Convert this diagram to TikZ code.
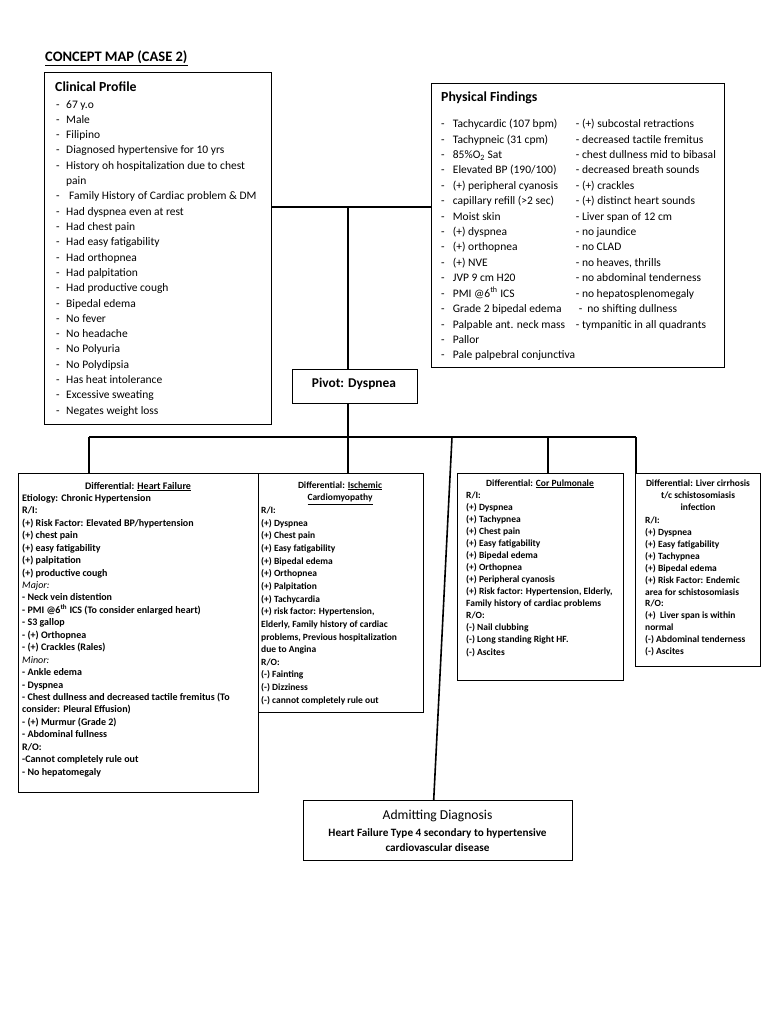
\documentclass[tikz,border=0pt]{standalone}
\usepackage{fontspec}
\setmainfont{Carlito}
\newcommand{\myfs}[2]{\fontsize{#1}{#2}\selectfont}
\newcommand{\cdash}[1]{\makebox[10pt][l]{-}#1}
\newcommand{\pdash}[1]{\makebox[11.7pt][l]{-}#1}
\newcommand{\itl}[1]{{\mdseries\itshape #1}}
\begin{document}
\begin{tikzpicture}[x=1pt,y=-1pt,
  box/.style={draw, line width=1.4pt, inner sep=0pt, anchor=north west},
  link/.style={line width=1.6pt},
  cpi/.style={anchor=base west, inner sep=0pt, font={\myfs{11.5}{13}}},
  head/.style={anchor=base west, inner sep=0pt, font={\myfs{13.8}{15}\bfseries}},
  dtxt/.style={anchor=base west, inner sep=0pt, font={\myfs{10}{12}\bfseries}},
  dtit/.style={anchor=base, inner sep=0pt, font={\myfs{10}{12}\bfseries}},
  ctxt/.style={anchor=base west, inner sep=0pt, font={\myfs{9.5}{12}\bfseries}},
  ctit/.style={anchor=base, inner sep=0pt, font={\myfs{9.5}{12}\bfseries}}
]
\fill[white] (0,0) rectangle (768,1024);
\useasboundingbox (0,0) rectangle (768,1024);

% title
\node[anchor=base west, inner sep=0pt, font={\myfs{14.5}{16}\bfseries}] (title) at (45,61.5) {\underline{CONCEPT MAP (CASE 2)}};

% Clinical profile
\node[box, minimum width=227pt, minimum height=352pt] (cp) at (44,72) {};
\node[head] (cph) at (55,91.3) {Clinical Profile};
\foreach \t [count=\i from 0] in {{\cdash{67 y.o}},{\cdash{Male}},{\cdash{Filipino}},{\cdash{Diagnosed hypertensive for 10 yrs}},{\cdash{History oh hospitalization due to chest}},{\hspace{10pt}pain},{\cdash{\hspace{3pt}Family History of Cardiac problem \& DM}},{\cdash{Had dyspnea even at rest}},{\cdash{Had chest pain}},{\cdash{Had easy fatigability}},{\cdash{Had orthopnea}},{\cdash{Had palpitation}},{\cdash{Had productive cough}},{\cdash{Bipedal edema}},{\cdash{No fever}},{\cdash{No headache}},{\cdash{No Polyuria}},{\cdash{No Polydipsia}},{\cdash{Has heat intolerance}},{\cdash{Excessive sweating}},{\cdash{Negates weight loss}}}
  \node[cpi] (cp\i) at (56,108.1+15.3*\i) {\t};

% Physical findings
\node[box, minimum width=293pt, minimum height=284pt] (pf) at (431,83) {};
\node[head] (pfh) at (441,101.3) {Physical Findings};
\foreach \t [count=\i from 0] in {{\pdash{Tachycardic (107 bpm)}},{\pdash{Tachypneic (31 cpm)}},{\pdash{85\%O\textsubscript{2} Sat}},{\pdash{Elevated BP (190/100)}},{\pdash{(+) peripheral cyanosis}},{\pdash{capillary refill (>2 sec)}},{\pdash{Moist skin}},{\pdash{(+) dyspnea}},{\pdash{(+) orthopnea}},{\pdash{(+) NVE}},{\pdash{JVP 9 cm H20}},{\pdash{PMI @6\textsuperscript{th} ICS}},{\pdash{Grade 2 bipedal edema}},{\pdash{Palpable ant. neck mass}},{\pdash{Pallor}},{\pdash{Pale palpebral conjunctiva}}}
  \node[cpi] (pfa\i) at (441,127.8+15.4*\i) {\t};
\foreach \t [count=\i from 0] in {{- (+) subcostal retractions},{- decreased tactile fremitus},{- chest dullness mid to bibasal},{- decreased breath sounds},{- (+) crackles},{- (+) distinct heart sounds},{- Liver span of 12 cm},{- no jaundice},{- no CLAD},{- no heaves, thrills},{- no abdominal tenderness},{- no hepatosplenomegaly},{\hspace{3pt}-\hspace{5pt}no shifting dullness},{- tympanitic in all quadrants}}
  \node[cpi] (pfb\i) at (575.7,127.8+15.4*\i) {\t};

% Pivot
\node[box, minimum width=125pt, minimum height=34pt] (pv) at (292,369) {};
\node[inner sep=0pt, font={\myfs{13.4}{15}\bfseries}] (pvt) at (354,384) {Pivot: Dyspnea};

% Heart failure
\node[box, minimum width=240pt, minimum height=319pt] (hf) at (18,473) {};
\node[dtit] (hft) at (138,489) {Differential: \underline{Heart Failure}};
\foreach \t [count=\i] in {{Etiology: Chronic Hypertension},{R/I:},{(+) Risk Factor: Elevated BP/hypertension},{(+) chest pain},{(+) easy fatigability},{(+) palpitation},{(+) productive cough},{\itl{Major:}},{- Neck vein distention},{- PMI @6\textsuperscript{th} ICS (To consider enlarged heart)},{- S3 gallop},{- (+) Orthopnea},{- (+) Crackles (Rales)},{\itl{Minor:}},{- Ankle edema},{- Dyspnea},{- Chest dullness and decreased tactile fremitus (To},{consider: Pleural Effusion)},{- (+) Murmur (Grade 2)},{- Abdominal fullness},{R/O:},{-Cannot completely rule out},{- No hepatomegaly}}
  \node[dtxt] (hf\i) at (22,489+12.44*\i) {\t};

% Ischemic cardiomyopathy
\node[box, minimum width=165pt, minimum height=239pt] (ic) at (258,473) {};
\node[ctit] (ict1) at (340,488.2) {Differential: \underline{Ischemic}};
\node[ctit] (ict2) at (340,500.9) {\underline{Cardiomyopathy}};
\foreach \t [count=\i from 2] in {{R/I:},{(+) Dyspnea},{(+) Chest pain},{(+) Easy fatigability},{(+) Bipedal edema},{(+) Orthopnea},{(+) Palpitation},{(+) Tachycardia},{(+) risk factor: Hypertension,},{Elderly, Family history of cardiac},{problems, Previous hospitalization},{due to Angina},{R/O:},{(-) Fainting},{(-) Dizziness},{(-) cannot completely rule out}}
  \node[ctxt] (ic\i) at (261,488.2+12.65*\i) {\t};

% Cor pulmonale
\node[box, minimum width=166pt, minimum height=207pt] (cor) at (457,473) {};
\node[ctit] (cort) at (540,486) {Differential: \underline{Cor Pulmonale}};
\foreach \t [count=\i] in {{R/I:},{(+) Dyspnea},{(+) Tachypnea},{(+) Chest pain},{(+) Easy fatigability},{(+) Bipedal edema},{(+) Orthopnea},{(+) Peripheral cyanosis},{(+) Risk factor: Hypertension, Elderly,},{Family history of cardiac problems},{R/O:},{(-) Nail clubbing},{(-) Long standing Right HF.},{(-) Ascites}}
  \node[ctxt] (cor\i) at (466,486.3+12.05*\i) {\t};

% Liver cirrhosis
\node[box, minimum width=125pt, minimum height=193pt] (lv) at (635,473) {};
\node[ctit] (lvt1) at (698,486.5) {Differential: Liver cirrhosis};
\node[ctit] (lvt2) at (698,498.9) {t/c schistosomiasis};
\node[ctit] (lvt3) at (698,510.9) {infection};
\foreach \t [count=\i from 0] in {{R/I:},{(+) Dyspnea},{(+) Easy fatigability},{(+) Tachypnea},{(+) Bipedal edema},{(+) Risk Factor: Endemic},{area for schistosomiasis},{R/O:},{(+)\ \ Liver span is within},{normal},{(-) Abdominal tenderness},{(-) Ascites}}
  \node[ctxt] (lv\i) at (645,523.2+11.97*\i) {\t};

% Admitting diagnosis
\node[box, minimum width=269pt, minimum height=60pt] (ad) at (303,800) {};
\node[anchor=base, inner sep=0pt, font={\myfs{13.6}{15}}] (adh) at (437.5,819.5) {Admitting Diagnosis};
\node[anchor=base, inner sep=0pt, font={\myfs{11.2}{12}\bfseries}] (ad1) at (437.5,836) {Heart Failure Type 4 secondary to hypertensive};
\node[anchor=base, inner sep=0pt, font={\myfs{11.2}{12}\bfseries}] (ad2) at (437.5,851) {cardiovascular disease};

% connectors
\coordinate (j1) at (348,207);
\coordinate (bus) at (348,437);
\coordinate (busL) at (89,437);
\coordinate (busR) at (636,437);
\coordinate (bc) at (548,437);
\coordinate (bs) at (452,437);
\draw[link] (cp.east |- j1) -- (pf.west |- j1);
\draw[link] (j1) -- (j1 |- pv.north);
\draw[link] (bus |- pv.south) -- (bus);
\draw[link] (busL) -- (busR);
\draw[link] (busL) -- (busL |- hf.north);
\draw[link] (bus) -- (bus |- ic.north);
\draw[link] (bc) -- (bc |- cor.north);
\draw[link] (busR) -- (busR |- lv.north);
\draw[link] (bs) -- ([xshift=-4.5pt]ad.north);
\end{tikzpicture}
\end{document}
